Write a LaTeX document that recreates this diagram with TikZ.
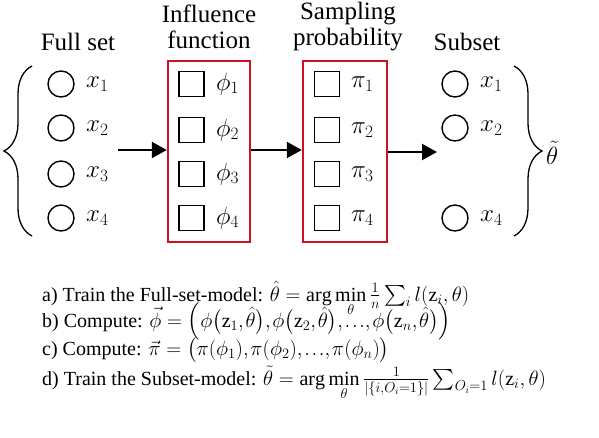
\documentclass[tikz,border=0pt]{standalone}
\usepackage{amsmath}
\usepackage{fontspec}
\setmainfont{Liberation Serif}
\usetikzlibrary{decorations.pathreplacing,arrows.meta}
\definecolor{boxred}{RGB}{204,18,34}
\newcommand\tightmu{\thinmuskip=1.5mu\relax}
\begin{document}
\begin{tikzpicture}[x=1pt,y=-1pt,
  lbl/.style={font=\fontsize{25}{30}\selectfont, align=center},
  circ/.style={circle, draw, line width=1.4pt, minimum size=26pt, inner sep=0pt},
  sq/.style={rectangle, draw, line width=1.4pt, minimum size=25pt, inner sep=0pt},
  mlab/.style={font=\fontsize{25}{28}\selectfont, anchor=west, inner sep=0pt},
  redbox/.style={draw=boxred, line width=2.4pt, inner sep=0pt},
  flow/.style={line width=2.2pt, -{Triangle[length=15pt,width=16pt]}},
  br/.style={decorate, decoration={brace, amplitude=28pt}, line width=1.3pt},
  eq/.style={font=\fontsize{20}{24}\selectfont, anchor=base west, inner sep=0pt}]
\useasboundingbox (0,0) rectangle (599,438);
% headings
\node[lbl] (hfull) at (78,42) {Full set};
\node[lbl] (hinf) at (209,27) {Influence\\[-4pt]function};
\node[lbl] (hsamp) at (348,27) {Sampling\\[-4pt]probability};
\node[lbl] (hsub) at (467,42) {Subset};
% left column
\foreach \i/\y in {1/84,2/128,3/174,4/218}{
  \node[circ] (c\i) at (61,\y) {};
  \node[mlab] (xl\i) at (86,\y) {$x_{\i}$};
}
% boxes
\node[redbox, minimum width=82pt, minimum height=181pt] (inf) at (209,151.5) {};
\node[redbox, minimum width=84pt, minimum height=181pt] (samp) at (345,151.5) {};
\foreach \i/\y in {1/84,2/130,3/174,4/218}{
  \node[sq] (s\i) at (191.5,\y) {};
  \node[mlab] (pl\i) at (216,\y) {$\phi_{\i}$};
  \node[sq] (t\i) at (327,\y) {};
  \node[mlab] (ql\i) at (351,\y) {$\pi_{\i}$};
}
% right column
\foreach \i/\y in {1/84,2/128,4/218}{
  \node[circ] (r\i) at (455,\y) {};
  \node[mlab] (rl\i) at (480,\y) {$x_{\i}$};
}
% braces
\coordinate (lb1) at (32,236);
\coordinate (lb2) at (32,66);
\draw[br] (lb1) -- (lb2);
\coordinate (rb1) at (514,66);
\coordinate (rb2) at (514,236);
\draw[br] (rb1) -- (rb2);
\node[font=\fontsize{28}{30}\selectfont, anchor=west, inner sep=0pt] (theta) at (546,153) {$\tilde{\theta}$};
% arrows
\coordinate (a1s) at (118,150);
\draw[flow] (a1s) -- (inf.west |- a1s);
\draw[flow] (inf.east |- a1s) -- (samp.west |- a1s);
\coordinate (a3e) at (437,152);
\draw[flow] (samp.east |- a3e) -- (a3e);
% equations
\node[eq] (ea) at (42,301) {a) Train the Full-set-model: $\hat{\theta}=\arg\min\limits_{\theta}\frac{1}{n}\sum_i l(\mathrm{z}_i,\theta)$};
\node[eq] (eb) at (42,327) {b) Compute: $\tightmu\vec{\phi}=\Bigl(\phi\bigl(\mathrm{z}_1,\hat{\theta}\bigr),\phi\bigl(\mathrm{z}_2,\hat{\theta}\bigr),{\ldots},\phi\bigl(\mathrm{z}_n,\hat{\theta}\bigr)\Bigr)$};
\node[eq] (ec) at (42,355) {c) Compute: $\tightmu\vec{\pi}=\bigl(\pi(\phi_1),\pi(\phi_2),{\ldots},\pi(\phi_n)\bigr)$};
\node[eq] (ed) at (42,385) {d) Train the Subset-model: $\tilde{\theta}=\arg\min\limits_{\theta}\frac{1}{|\{i,O_i=1\}|}\sum_{O_i=1} l(\mathrm{z}_i,\theta)$};
\end{tikzpicture}
\end{document}
